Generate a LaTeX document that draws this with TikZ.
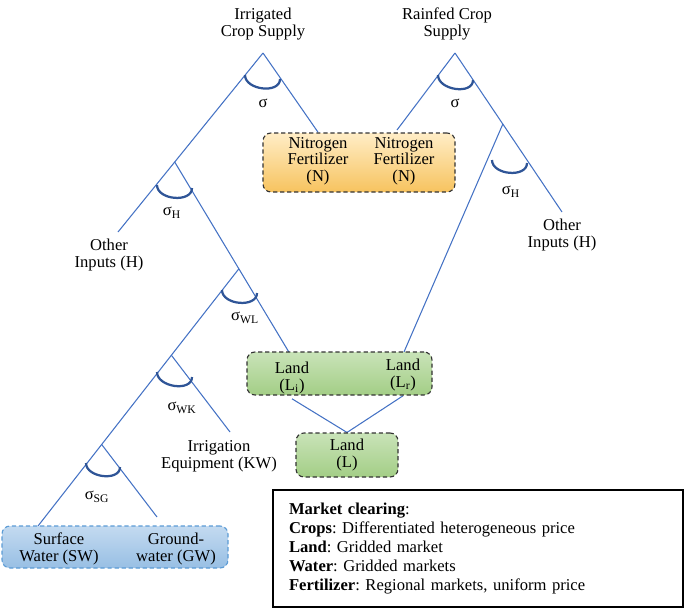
\documentclass[tikz,border=0pt]{standalone}
\usepackage{fontspec}
\setmainfont{Liberation Serif}
\usepackage{tikz}
\usetikzlibrary{calc,backgrounds}
\definecolor{linkblue}{HTML}{4472C4}
\definecolor{arcblue}{HTML}{2F5597}
\definecolor{dashgray}{HTML}{333333}
\definecolor{ntop}{HTML}{FFEDC6}
\definecolor{nbot}{HTML}{F7C35F}
\definecolor{gtop}{HTML}{C9E3B8}
\definecolor{gbot}{HTML}{A3CE86}
\definecolor{wtop}{HTML}{C3DAF0}
\definecolor{wbot}{HTML}{98BFE4}
\definecolor{wedge}{HTML}{5B9BD5}
\frenchspacing

\begin{document}
\begin{tikzpicture}[font=\fontsize{11.8pt}{11.8pt}\selectfont,every node/.style={align=center},
  link/.style={draw=linkblue,line width=0.75pt},
  sigarc/.style={draw=arcblue,line width=1.6pt},
  sigbend/.style={out=-90,in=-90,looseness=1.1},
  fertbox/.style={draw=dashgray,dash pattern=on 3pt off 2pt,line width=0.8pt,rounded corners=2mm,top color=ntop,bottom color=nbot},
  landbox/.style={draw=dashgray,dash pattern=on 3pt off 2pt,line width=0.8pt,rounded corners=2mm,top color=gtop,bottom color=gbot},
  waterbox/.style={draw=wedge,dash pattern=on 3pt off 2pt,line width=0.8pt,rounded corners=2mm,top color=wtop,bottom color=wbot},
  mktbox/.style={draw=black,line width=1pt,align=left,font=\fontsize{11.8pt}{13.6pt}\selectfont,text width=9.45cm,inner xsep=0.4cm,minimum height=2.925cm}]
  \useasboundingbox (0,0) rectangle (17.125,-15.2);

  % boxes
  \node[fertbox,minimum width=4.8cm,minimum height=1.475cm] (nbox) at (8.975,-4.0625) {};
  \node[landbox,minimum width=4.625cm,minimum height=1.075cm] (lbox) at (8.4875,-9.3375) {};
  \node[landbox,minimum width=2.55cm,minimum height=1.1cm] (landl) at (8.675,-11.375) {Land\\(L)};
  \node[waterbox,minimum width=5.65cm,minimum height=1.05cm] (wbox) at (2.875,-13.675) {};
  \node[mktbox] (market) at (11.95,-13.7125) {\textbf{Market clearing}:\\
    \textbf{Crops}: Differentiated heterogeneous price\\
    \textbf{Land}: Gridded market\\
    \textbf{Water}: Gridded markets\\
    \textbf{Fertilizer}: Regional markets, uniform price};

  % labels
  \node (irrsup) at (6.575,-0.6) {Irrigated\\Crop Supply};
  \node (rfsup) at (11.175,-0.6) {Rainfed Crop\\Supply};
  \node (nirr) at (7.95,-4.025) {Nitrogen\\Fertilizer\\(N)};
  \node (nrf) at (10.1,-4.025) {Nitrogen\\Fertilizer\\(N)};
  \node (li) at (7.3,-9.45) {Land\\(L\textsubscript{i})};
  \node (lr) at (10.075,-9.375) {Land\\(L\textsubscript{r})};
  \node (sw) at (1.475,-13.725) {Surface\\Water (SW)};
  \node (gw) at (4.4,-13.725) {Ground-\\water (GW)};
  \node (othirr) at (2.725,-6.375) {Other\\Inputs (H)};
  \node (othrf) at (14.05,-5.875) {Other\\Inputs (H)};
  \node (kw) at (5.475,-11.4) {Irrigation\\Equipment (KW)};

  % nest points and free ends
  \coordinate (irr) at (6.575,-1.325);
  \coordinate (rf) at (11.375,-1.325);
  \coordinate (e1) at (2.95,-5.8);
  \coordinate (e3) at (9.925,-3.25);
  \coordinate (e4) at (14.05,-5.3);
  \coordinate (e5) at (0.95,-13.15);
  \coordinate (e6) at (3.925,-12.925);
  \coordinate (e7) at (5.75,-10.8);
  \coordinate (hirr) at ($(irr)!0.609!(e1)$);
  \coordinate (hrf) at ($(rf)!0.447!(e4)$);
  \coordinate (wl) at ($(hirr)!0.547!(li.north)$);
  \coordinate (wk) at ($(wl)!0.336!(e5)$);
  \coordinate (sg) at ($(wl)!0.683!(e5)$);

  \begin{scope}[on background layer]
    \draw[link] (irr) -- (e1);
    \draw[link] (irr) -- (nirr.north);
    \draw[link] (rf) -- (e3);
    \draw[link] (rf) -- (e4);
    \draw[link] (hirr) -- (li.north);
    \draw[link] (hrf) -- (lr.north);
    \draw[link] (wl) -- (e5);
    \draw[link] (wk) -- (e7);
    \draw[link] (sg) -- (e6);
    \draw[link] (li.south) -- (landl.north);
    \draw[link] (lr.south) -- (landl.north);
  \end{scope}

  % elasticities
  \draw[sigarc] (6.125,-1.875) to[sigbend] (7.0,-1.975);
  \draw[sigarc] (10.95,-1.875) to[sigbend] (11.825,-2.0);
  \draw[sigarc] (3.925,-4.625) to[sigbend] (4.8,-4.7);
  \draw[sigarc] (12.3,-4.0) to[sigbend] (13.175,-4.075);
  \draw[sigarc] (5.55,-7.25) to[sigbend] (6.425,-7.325);
  \draw[sigarc] (3.925,-9.3) to[sigbend] (4.8,-9.425);
  \draw[sigarc] (2.15,-11.575) to[sigbend] (3.0,-11.675);
  \node (sirr) at (6.575,-2.575) {σ};
  \node (srf) at (11.375,-2.575) {σ};
  \node (shirr) at (4.3,-5.325) {σ\textsubscript{H}};
  \node (shrf) at (12.775,-4.8) {σ\textsubscript{H}};
  \node (swl) at (6.125,-7.95) {σ\textsubscript{WL}};
  \node (swk) at (4.55,-10.2) {σ\textsubscript{WK}};
  \node (ssg) at (2.425,-12.425) {σ\textsubscript{SG}};
\end{tikzpicture}
\end{document}
